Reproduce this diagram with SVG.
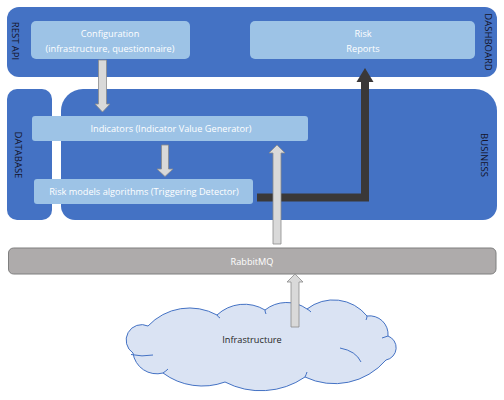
<svg xmlns="http://www.w3.org/2000/svg" width="504" height="400" viewBox="0 0 504 400">
<style>
.panel{fill:#4472C4}
.box{fill:#9DC3E6}
.t{font-family:"Open Sans","Noto Sans",sans-serif;font-size:9.2px;fill:#FFFFFF;text-anchor:middle;dominant-baseline:central}
.v{font-family:"Open Sans","Noto Sans",sans-serif;font-size:9.5px;fill:#141428;text-anchor:middle;dominant-baseline:central}
.dark{fill:#262626}
.garrow{fill:#D9D9D9;stroke:#8C8C8C;stroke-width:0.8;stroke-linejoin:miter}
</style>
<rect width="504" height="400" fill="#FFFFFF"/>
<g id="top-panel">
<rect class="panel" x="7" y="7" width="490" height="70" rx="12"/>
<text class="v" transform="translate(15,41) rotate(90)">REST API</text>
<text class="v" transform="translate(488,42) rotate(90)">DASHBOARD</text>
</g>
<g id="database-panel">
<rect class="panel" x="7" y="89" width="45" height="131" rx="10"/>
<text class="v" transform="translate(18,155) rotate(90)">DATABASE</text>
</g>
<g id="business-panel">
<path class="panel" d="M83,89 H475 A22,22 0 0 1 497,111 V206 A14,14 0 0 1 483,220 H75 A14,14 0 0 1 61,206 V111 A22,22 0 0 1 83,89 Z"/>
<text class="v" transform="translate(484,155) rotate(90)">BUSINESS</text>
</g>
<g id="configuration">
<rect class="box" x="31" y="21" width="159" height="38" rx="5"/>
<text class="t" x="110" y="33">Configuration</text>
<text class="t" x="110" y="48">(infrastructure, questionnaire)</text>
</g>
<g id="risk-reports">
<rect class="box" x="250" y="21" width="225" height="38" rx="5"/>
<text class="t" x="363" y="33">Risk</text>
<text class="t" x="363" y="48">Reports</text>
</g>
<g id="indicators">
<rect class="box" x="32" y="116" width="276" height="25" rx="3"/>
<text class="t" x="171" y="128.5">Indicators (Indicator Value Generator)</text>
</g>
<g id="risk-models">
<rect class="box" x="34" y="179" width="219" height="25" rx="3"/>
<text class="t" x="144" y="191.5">Risk models algorithms (Triggering Detector)</text>
</g>
<g id="rabbitmq">
<rect x="8.5" y="248" width="487.5" height="26" rx="5" fill="#AEABAB" stroke="#7F7F7F" stroke-width="1"/>
<text class="t" x="252" y="261">RabbitMQ</text>
</g>
<g id="infrastructure">
<path d="M148,326 A57,57 0 0 1 217,315 A40,40 0 0 1 265,310 A35,35 0 0 1 307,309 A43,43 0 0 1 367,316 A18.5,18.5 0 0 1 388,336 A12.5,12.5 0 0 1 386,360 A68,68 0 0 1 305,377 A78,78 0 0 1 225,382 A66,66 0 0 1 163,373 A24,24 0 0 1 133,353 A15.5,15.5 0 0 1 148,326 Z" fill="#DAE3F3" stroke="#4472C4" stroke-width="1"/>
<g fill="none" stroke="#4472C4" stroke-width="1">
<path d="M131,354.5 Q142,357 153,355"/>
<path d="M340,348 Q356,351 361,362"/>
<path d="M217,315 Q218,317 220,318"/>
<path d="M265,310 Q265,312 266,314"/>
<path d="M307,309 Q309,310 311,312"/>
<path d="M367,316 Q367,318 366,320"/>
<path d="M388,336 Q385,337 382,338"/>
<path d="M305,377 Q306,375 307,372"/>
<path d="M163,373 Q166,371 168,369"/>
</g>
<text class="t dark" x="252" y="339.5">Infrastructure</text>
</g>
<g id="connectors">
<path class="garrow" d="M98.5,60 H106.5 V104 H110 L102.5,112 L95,104 H98.5 Z"/>
<path class="garrow" d="M161.5,145 H168.5 V169 H173 L165,176.5 L157,169 H161.5 Z"/>
<path d="M257,197.5 H365 V80" fill="none" stroke="#3A3838" stroke-width="8" stroke-linejoin="miter"/>
<polygon points="356.5,82 365,68 373.5,82" fill="#3A3838"/>
<path class="garrow" d="M273,244 V153 H269 L277,145 L285,153 H281 V244 Z"/>
<path class="garrow" d="M291,327 V282 H287 L295,274 L303,282 H299 V327 Z"/>
</g>
</svg>
